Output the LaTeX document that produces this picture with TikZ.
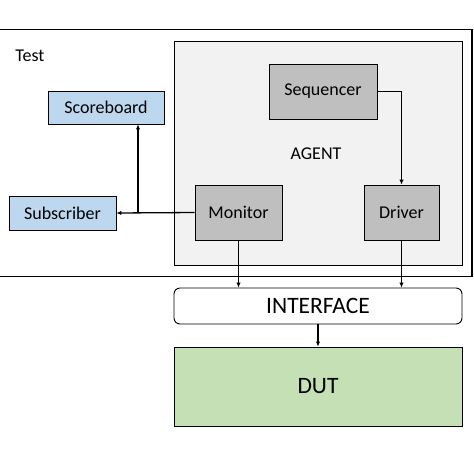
\documentclass[tikz,border=0pt]{standalone}
\usepackage{fontspec}
\setmainfont{Carlito}
\usetikzlibrary{arrows.meta}
\definecolor{agentgray}{HTML}{F2F2F2}
\definecolor{blockgray}{HTML}{BFBFBF}
\definecolor{tbblue}{HTML}{BDD7EE}
\definecolor{dutgreen}{HTML}{C5E0B4}
\begin{document}
\begin{tikzpicture}[x=1pt,y=-1pt,
    every node/.append style={draw,rectangle,line width=0.9pt,inner sep=0pt,font=\fontsize{18}{21}\selectfont},
    block/.style={fill=blockgray},
    tbblock/.style={fill=tbblue},
    conn/.style={line width=1.3pt,-{Latex[length=5pt,width=4.5pt]}}]
      \useasboundingbox (0,0) rectangle (474,456);

      % test environment and agent
      \draw[line width=1pt] (-5,29) rectangle (472,276);
      \draw[line width=1.6pt] (472,29) -- (472,276);
      \node[draw=none,anchor=west] (Test) at (15,56) {Test};
      \node[fill=agentgray,minimum width=288,minimum height=224] (Agent) at (318,153) {};
      \node[draw=none] (AgentLabel) at (316,154) {AGENT};

      \node[block,minimum width=108,minimum height=55] (Sequencer) at (323,91.5) {Sequencer};
      \node[block,minimum width=87,minimum height=55] (Monitor) at (238.5,212.5) {Monitor};
      \node[block,minimum width=75,minimum height=55] (Driver) at (401.5,212.5) {Driver};

      \node[tbblock,minimum width=116,minimum height=33] (Scoreboard) at (106,107.5) {Scoreboard};
      \node[tbblock,minimum width=107,minimum height=34] (Subscriber) at (62.5,213) {Subscriber};

      \node[rounded corners=6pt,fill=white,minimum width=288,minimum height=36,font=\fontsize{23.5}{27}\selectfont] (Interface) at (318,306) {INTERFACE};
      \node[fill=dutgreen,minimum width=288,minimum height=79,font=\fontsize{23.5}{27}\selectfont] (DUT) at (318,386.5) {DUT};

      \coordinate (Branch) at (138,212.5);

      \draw[conn] (Sequencer.east) -| (Driver.north);
      \draw[conn] (Monitor.west) -- (Subscriber.east);
      \draw[conn] (Branch) -- (Branch |- Scoreboard.south);
      \draw[conn] (Monitor.south) -- (Monitor.south |- Interface.north);
      \draw[conn] (Driver.south) -- (Driver.south |- Interface.north);
      \draw[conn] (Interface.south) -- (DUT.north);
    \end{tikzpicture}
\end{document}
